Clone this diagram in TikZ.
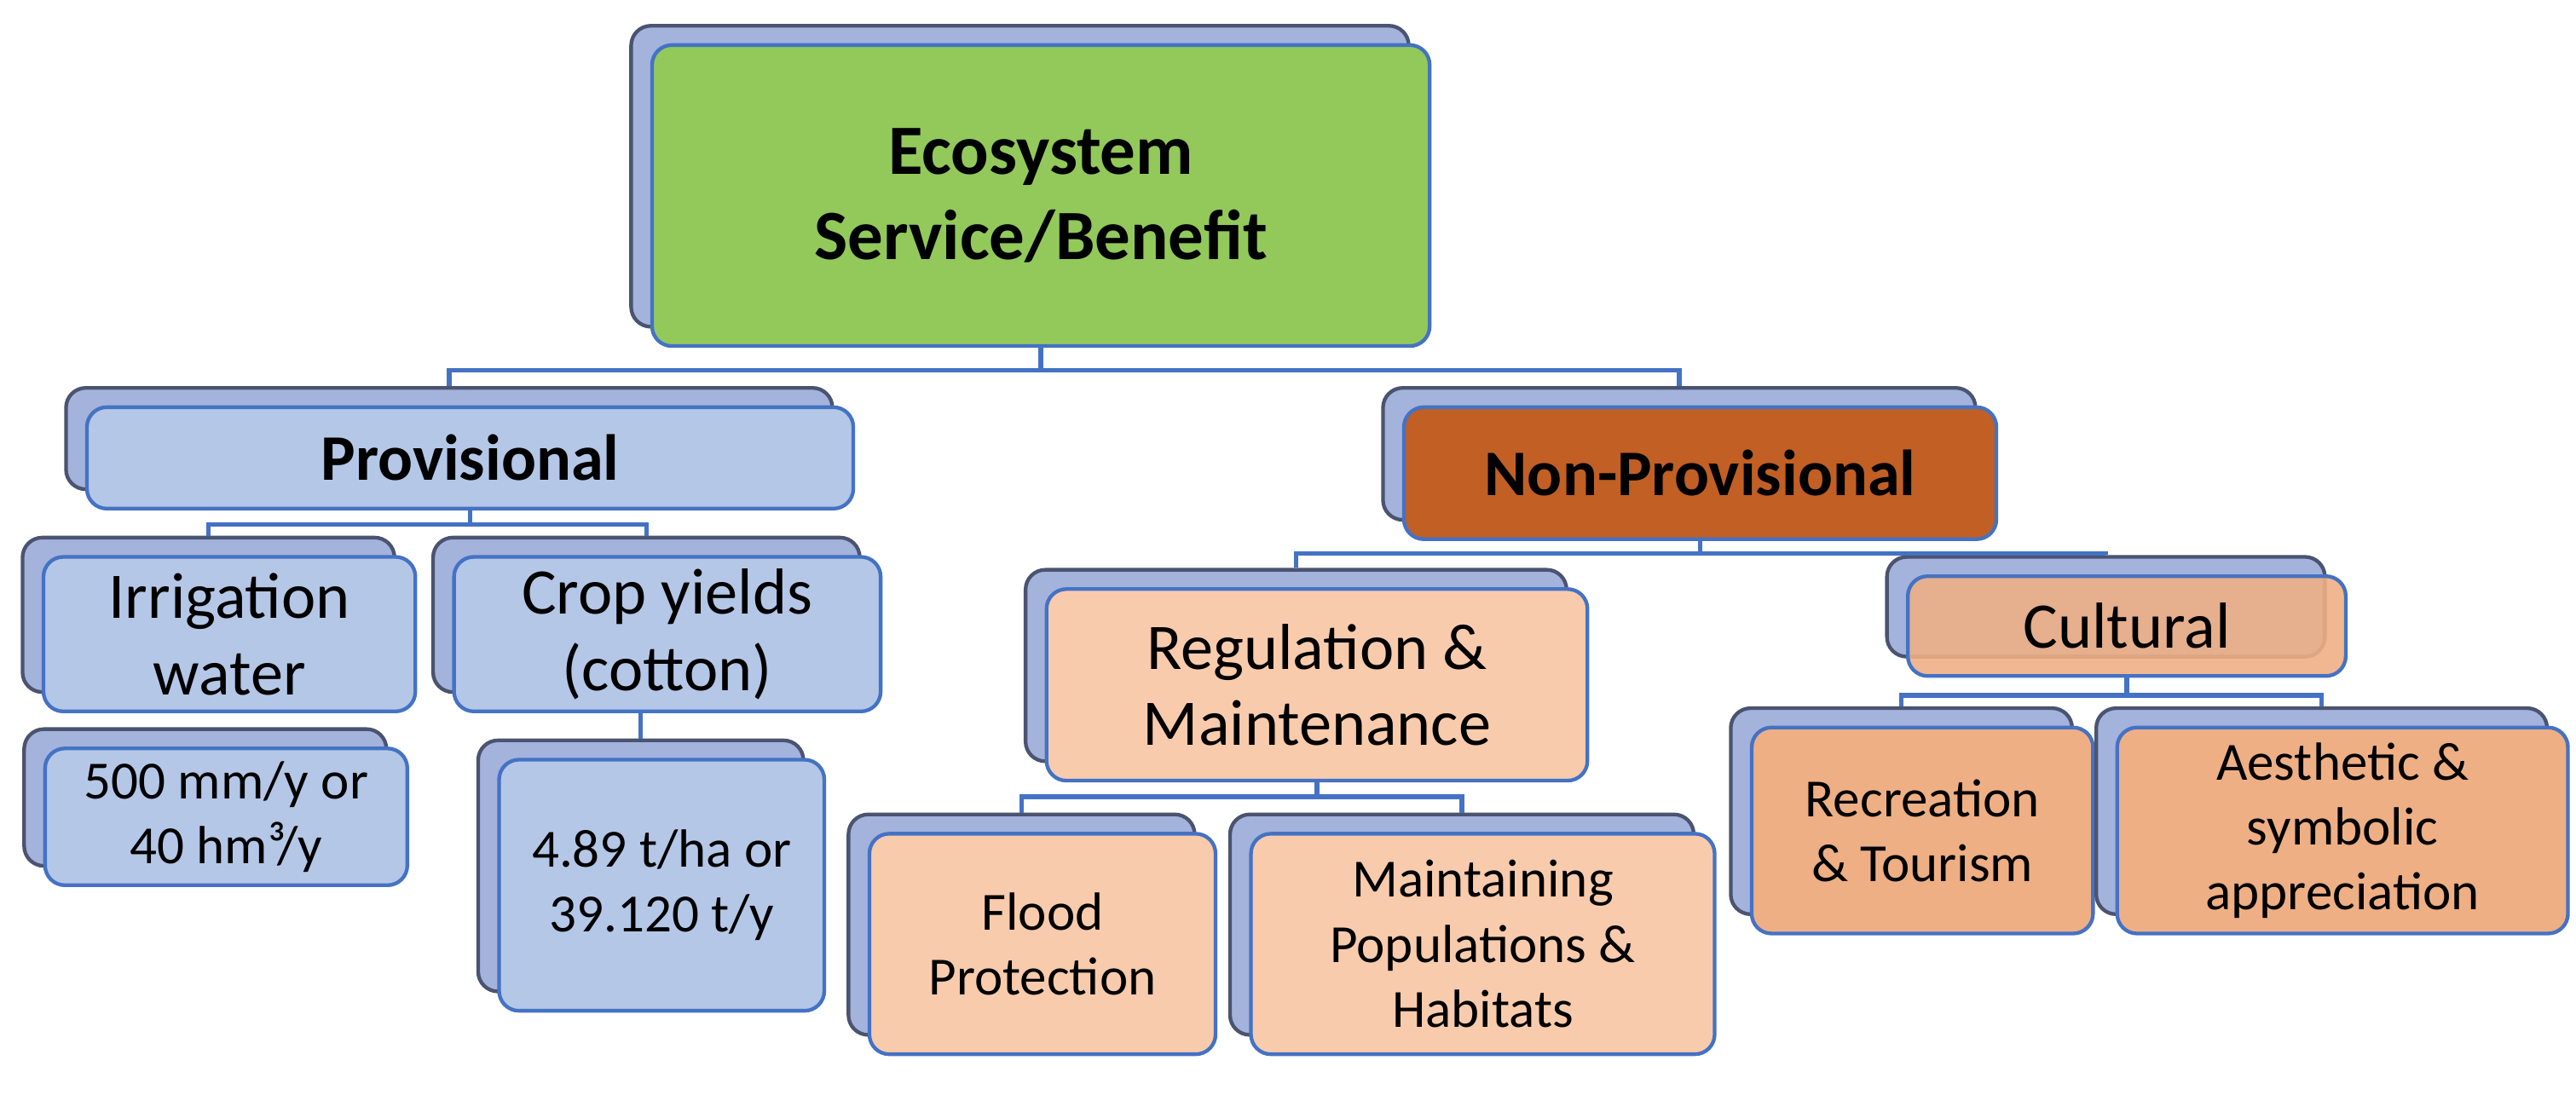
\documentclass[tikz,border=0pt]{standalone}
\usepackage{fontspec}
\setmainfont{Carlito}
\definecolor{bluef}{HTML}{B4C7E7}
\definecolor{blueb}{HTML}{4472C4}
\definecolor{backf}{HTML}{A3B3DC}
\definecolor{backb}{HTML}{4A5470}
\definecolor{greenf}{HTML}{92C95A}
\definecolor{orangef}{HTML}{C15F24}
\definecolor{peachf}{HTML}{F8CBAD}
\definecolor{peachd}{HTML}{EEAF85}
\tikzset{
 front/.style={draw=blueb,line width=1.3pt,rounded corners=7pt,align=center,inner sep=0pt},
 back/.style={draw=backb,fill=backf,line width=1.3pt,rounded corners=7pt,inner sep=0pt},
 conn/.style={draw=blueb,line width=1.6pt},
 big/.style={font=\fontsize{25}{30}\selectfont\bfseries},
 mid/.style={font=\fontsize{23}{27}\selectfont},
 midb/.style={font=\fontsize{23}{27}\selectfont\bfseries},
 small/.style={font=\fontsize{19}{23}\selectfont},
}
\newcommand\ebox[7]{%
 \node[back,minimum width=#4*0.02cm,minimum height=#5*0.02cm] (#1b) at (#2-13,#3-12) {};
 \node[front,#6,minimum width=#4*0.02cm,minimum height=#5*0.02cm] (#1) at (#2,#3) {#7};}
\begin{document}
\begin{tikzpicture}[x=0.02cm,y=-0.02cm]
\useasboundingbox (0,0) rectangle (1600,680);
\ebox{root}{646.5}{121.5}{483}{187}{fill=greenf,big}{Ecosystem\\Service/Benefit}
\ebox{prov}{292}{284.5}{476}{63}{fill=bluef,midb}{Provisional}
\ebox{nonp}{1056}{294}{368}{82}{fill=orangef,midb}{Non-Provisional}
\ebox{irr}{142.5}{394}{231}{96}{fill=bluef,mid}{Irrigation\\water}
\ebox{crop}{414.5}{394}{265}{96}{fill=bluef,mid}{Crop yields\\(cotton)}
\ebox{irrc}{140.5}{507.5}{225}{85}{fill=bluef,small}{500 mm/y or\\40 hm³/y}
\ebox{cropc}{411}{550}{202}{156}{fill=bluef,small}{4.89 t/ha or\\39.120 t/y}
\ebox{reg}{818}{425.5}{336}{119}{fill=peachf,mid}{Regulation \&\\Maintenance}
\ebox{cult}{1321}{389}{272}{62}{fill=peachd,fill opacity=0.9,text opacity=1,mid}{Cultural}
\ebox{flood}{647.5}{586.5}{215}{137}{fill=peachf,small}{Flood\\Protection}
\ebox{maint}{921}{586.5}{288}{137}{fill=peachf,small}{Maintaining\\Populations \&\\Habitats}
\ebox{rec}{1194}{516}{212}{128}{fill=peachd,small}{Recreation\\\& Tourism}
\ebox{aes}{1455}{516}{280}{128}{fill=peachd,small}{Aesthetic \&\\symbolic\\appreciation}
\draw[conn] (root.south) -- (root.south |- 0,230) -| (provb.north);
\draw[conn] (root.south |- 0,230) -| (nonpb.north);
\draw[conn] (prov.south) -- (prov.south |- 0,326) -| (irrb.north);
\draw[conn] (prov.south |- 0,326) -| (cropb.north);
\draw[conn] (cropcb.north |- crop.south) -- (cropcb.north);
\draw[conn] (nonp.south) -- (nonp.south |- 0,344) -| (regb.north);
\draw[conn] (nonp.south |- 0,344) -| (cultb.north);
\draw[conn] (reg.south) -- (reg.south |- 0,495) -| (floodb.north);
\draw[conn] (reg.south |- 0,495) -| (maintb.north);
\draw[conn] (cult.south) -- (cult.south |- 0,432) -| (recb.north);
\draw[conn] (cult.south |- 0,432) -| (aesb.north);
\end{tikzpicture}
\end{document}
